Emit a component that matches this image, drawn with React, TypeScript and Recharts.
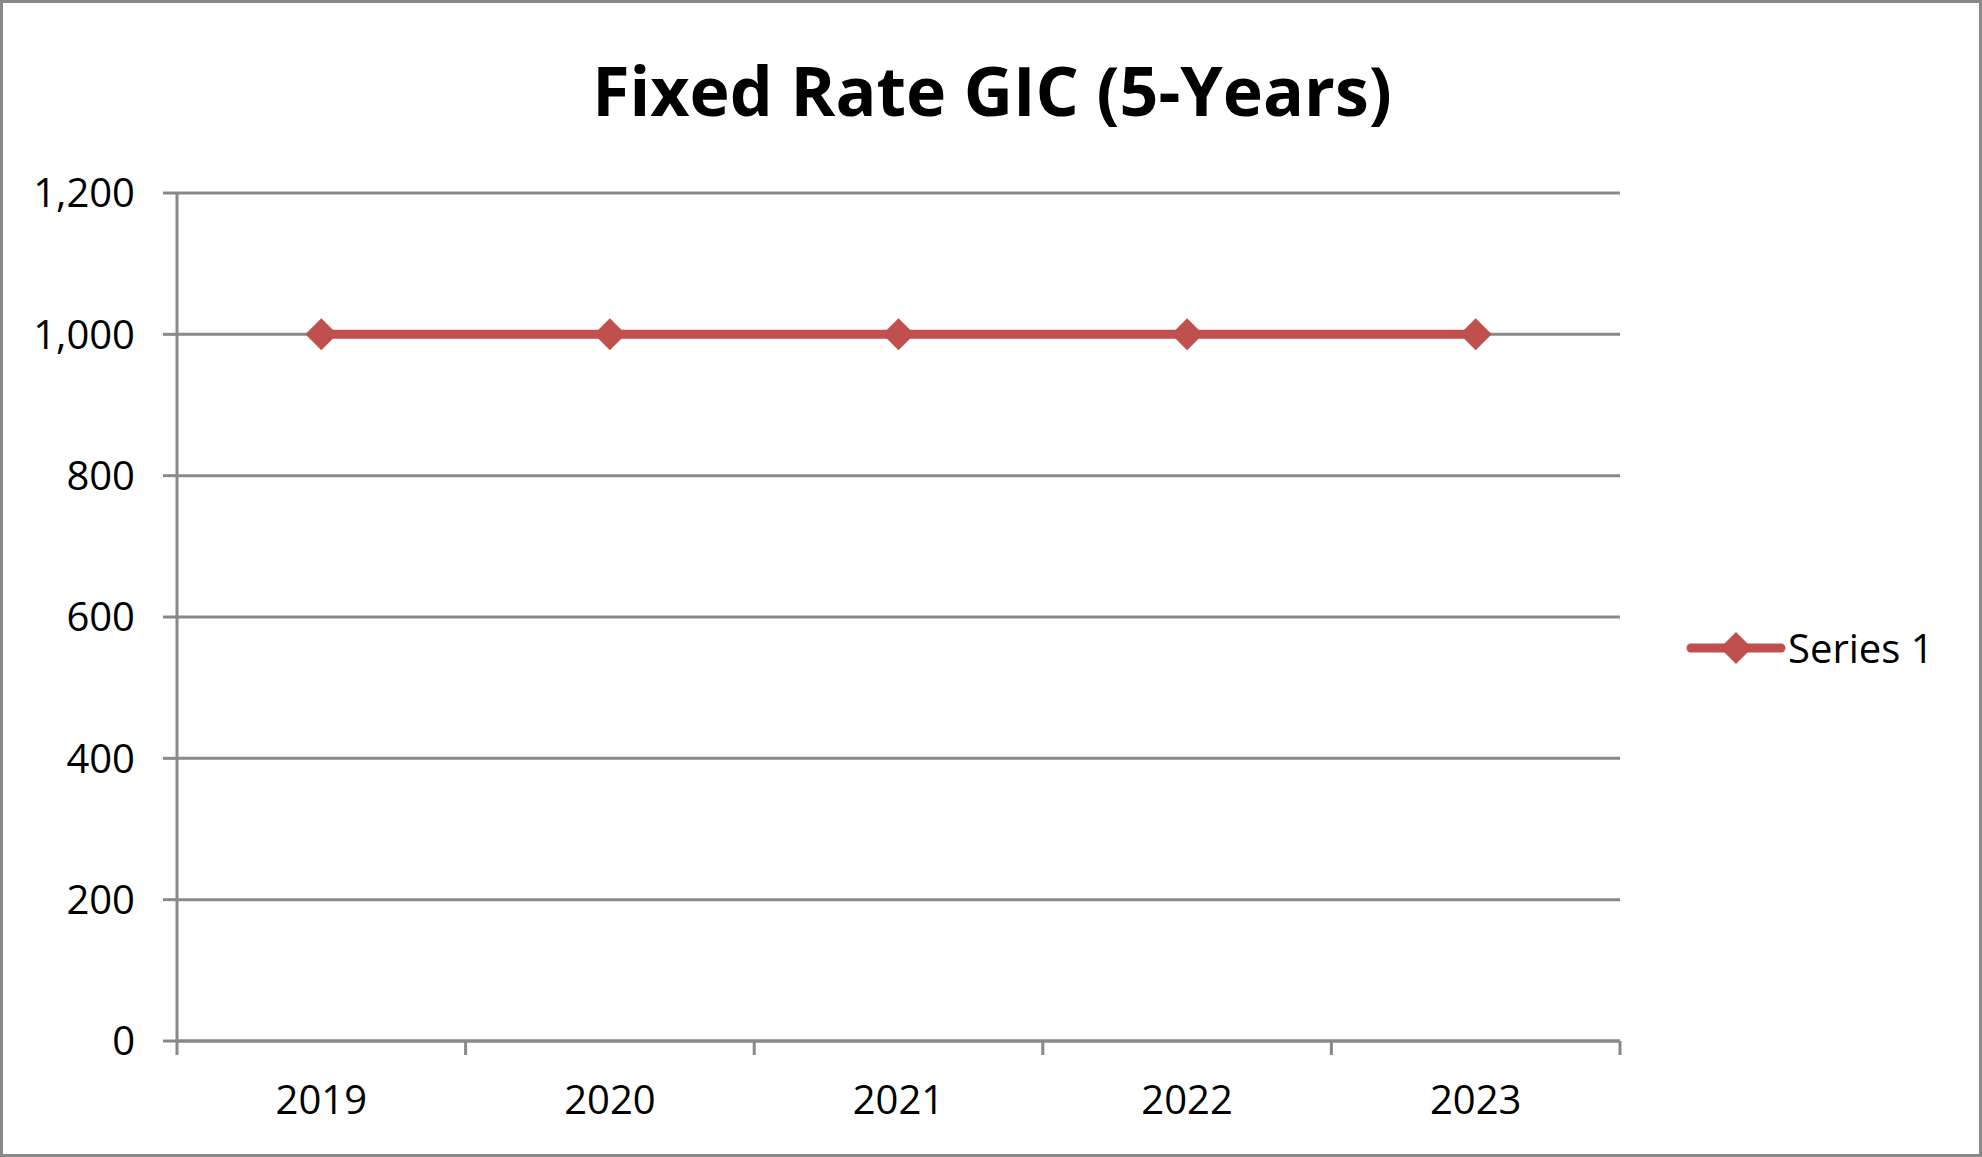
import React from 'react';
import { LineChart, Line, XAxis, YAxis, CartesianGrid, Legend } from 'recharts';

const years = ['2019', '2020', '2021', '2022', '2023'];
const series1 = [1000, 1000, 1000, 1000, 1000];
const yTicks = [0, 200, 400, 600, 800, 1000, 1200];

const data = years.map((year, i) => ({ year, series1: series1[i] }));

const RED = '#C0504D';
const GRID = '#898989';
const FONT = '"Open Sans", "Noto Sans", sans-serif';

const Diamond = (props: any) => {
  const { cx, cy } = props;
  if (cx == null || cy == null) return null;
  const r = 16;
  return (
    <path
      d={`M${cx},${cy - r} L${cx + r},${cy} L${cx},${cy + r} L${cx - r},${cy} Z`}
      fill={RED}
      stroke="none"
    />
  );
};

// Excel-style category tick: label centred, tick marks on the category boundaries
const YearTick = (props: any) => {
  const { x, y, payload, index, visibleTicksCount } = props;
  const half = payload.offset || 0;
  const isLast = index === visibleTicksCount - 1;
  return (
    <g>
      <line x1={x - half} y1={y} x2={x - half} y2={y + 14} stroke={GRID} strokeWidth={3} />
      {isLast && <line x1={x + half} y1={y} x2={x + half} y2={y + 14} stroke={GRID} strokeWidth={3} />}
      <text x={x} y={y + 73} textAnchor="middle" fill="#000" fontSize={40} fontFamily={FONT}>
        {payload.value}
      </text>
    </g>
  );
};

const LegendContent = (props: any) => {
  const item = props.payload && props.payload[0];
  if (!item) return null;
  return (
    <div style={{ display: 'flex', alignItems: 'center', fontFamily: FONT, fontSize: 40, color: '#000' }}>
      <svg width={100} height={34} style={{ display: 'block' }}>
        <line x1={5} y1={17} x2={95} y2={17} stroke={RED} strokeWidth={9} strokeLinecap="round" />
        <path d="M50,1 L66,17 L50,33 L34,17 Z" fill={RED} />
      </svg>
      <span style={{ marginLeft: 2, lineHeight: '40px' }}>{item.value}</span>
    </div>
  );
};

export default function App() {
  return (
    <div style={{ position: 'absolute', left: 0, top: 0, width: 1982, height: 1157, background: '#fff' }}>
      <LineChart
        width={1982}
        height={1157}
        data={data}
        margin={{ top: 193, right: 362, bottom: 0, left: 0 }}
        style={{ fontFamily: FONT }}
      >
        <CartesianGrid vertical={false} stroke={GRID} strokeWidth={3} />
        <XAxis
          dataKey="year"
          scale="band"
          height={116}
          interval={0}
          axisLine={{ stroke: GRID, strokeWidth: 3 }}
          tickLine={false}
          tickSize={0}
          tickMargin={0}
          tick={<YearTick />}
        />
        <YAxis
          width={177}
          domain={[0, 1200]}
          ticks={yTicks}
          interval={0}
          tickSize={14}
          tickMargin={28}
          tickFormatter={(v: number) => v.toLocaleString('en-US')}
          axisLine={{ stroke: GRID, strokeWidth: 3 }}
          tickLine={{ stroke: GRID, strokeWidth: 3 }}
          tick={{ fill: '#000', fontSize: 40 }}
        />
        <Legend
          layout="vertical"
          align="center"
          verticalAlign="middle"
          content={<LegendContent />}
          wrapperStyle={{ position: 'absolute', left: 1686, top: 628, width: 280 }}
        />
        <Line
          type="linear"
          dataKey="series1"
          name="Series 1"
          stroke={RED}
          strokeWidth={9}
          dot={<Diamond />}
          activeDot={false}
          legendType="diamond"
          isAnimationActive={false}
        />
      </LineChart>
      <svg width={1982} height={1157} style={{ position: 'absolute', left: 0, top: 0, pointerEvents: 'none' }}>
        <text x={992} y={116} textAnchor="middle" fontFamily={FONT} fontWeight={700} fontSize={68} fill="#000">
          Fixed Rate GIC (5-Years)
        </text>
        <rect x={1.5} y={1.5} width={1979} height={1154} fill="none" stroke={GRID} strokeWidth={3} />
      </svg>
    </div>
  );
}
